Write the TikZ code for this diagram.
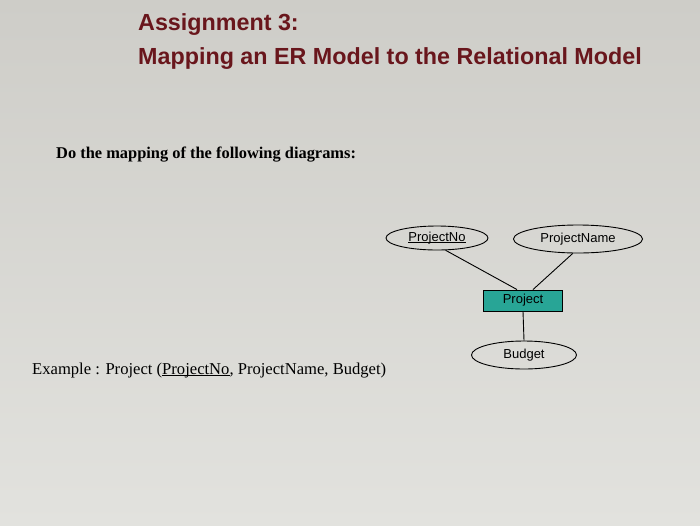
\documentclass[tikz,border=0pt]{standalone}
\usepackage{fontspec}
\setmainfont{Liberation Serif}
\setsansfont{Liberation Sans}
\usetikzlibrary{shapes.geometric}
\newcommand\ulx[1]{\underline{\smash{#1}}}
\definecolor{bgtop}{RGB}{206,205,200}
\definecolor{bgbot}{RGB}{226,226,222}
\definecolor{titlered}{RGB}{105,22,28}
\definecolor{teal}{RGB}{40,165,150}
\tikzset{
  attr/.style={ellipse, draw, line width=0.9pt, inner sep=0pt, text height=9.5pt, text depth=3pt, font=\sffamily\fontsize{13}{15}\selectfont},
  entity/.style={rectangle, draw, line width=0.9pt, fill=teal, inner sep=0pt, text height=9.5pt, text depth=3pt, minimum width=79pt, minimum height=21pt, font=\sffamily\fontsize{13}{15}\selectfont},
  conn/.style={line width=0.9pt},
  title/.style={anchor=base west, inner sep=0pt, text=titlered, font=\sffamily\bfseries\fontsize{23.3}{28}\selectfont}
}
\begin{document}
\begin{tikzpicture}[x=1pt,y=-1pt]
\useasboundingbox (0,0) rectangle (700,525);
\shade[top color=bgtop, bottom color=bgbot] (0,0) rectangle (700,525);
\node[title] (t1) at (138,30) {Assignment 3:};
\node[title] (t2) at (138,64) {Mapping an ER Model to the Relational Model};
\node[anchor=base west, inner sep=0pt, font=\bfseries\fontsize{16.4}{19}\selectfont] (sub) at (56,158) {Do the mapping of the following diagrams:};
\node[anchor=base west, inner sep=0pt, font=\fontsize{16.6}{19}\selectfont] (ex) at (32,374) {Example : Project (\ulx{ProjectNo}, ProjectName, Budget)};
\node[attr, minimum width=102pt, minimum height=24pt] (pno) at (437,238) {\ulx{ProjectNo}};
\node[attr, minimum width=129pt, minimum height=28pt] (pname) at (578,239) {ProjectName};
\node[entity] (proj) at (523,300.5) {Project};
\node[attr, minimum width=105pt, minimum height=28pt] (bud) at (524,355) {Budget};
\draw[conn] (pno.-55) -- ([xshift=-6pt]proj.north);
\draw[conn] (pname.-110) -- ([xshift=10pt]proj.north);
\draw[conn] (proj.south) -- (bud.north);
\end{tikzpicture}
\end{document}
